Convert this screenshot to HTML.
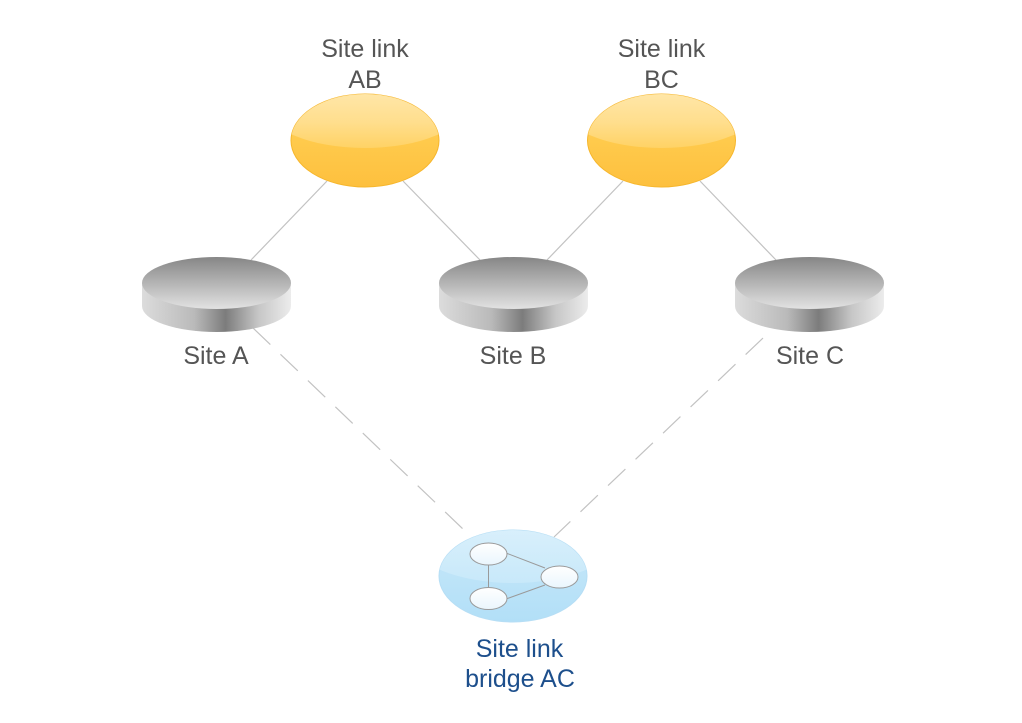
<!DOCTYPE html>
<html><head><meta charset="utf-8"><style>
html,body{margin:0;padding:0;background:#fff;}
svg{display:block;}
</style></head><body>
<svg width="1022" height="723" viewBox="0 0 1022 723" xmlns="http://www.w3.org/2000/svg">
<defs>
  <linearGradient id="org" x1="0" y1="0" x2="0" y2="1">
    <stop offset="0" stop-color="#ffd56e"/>
    <stop offset="0.5" stop-color="#ffca4c"/>
    <stop offset="1" stop-color="#fdc03e"/>
  </linearGradient>
  <linearGradient id="orgHi" x1="0" y1="0" x2="0" y2="1">
    <stop offset="0" stop-color="#fff2d0"/>
    <stop offset="0.7" stop-color="#ffe196"/>
    <stop offset="1" stop-color="#ffd46a"/>
  </linearGradient>
  <linearGradient id="blu" x1="0" y1="0" x2="0" y2="1">
    <stop offset="0" stop-color="#c9e9fa"/>
    <stop offset="1" stop-color="#b2dff7"/>
  </linearGradient>
  <linearGradient id="bluHi" x1="0" y1="0" x2="0" y2="1">
    <stop offset="0" stop-color="#e6f5fd"/>
    <stop offset="1" stop-color="#cbeafa"/>
  </linearGradient>
  <linearGradient id="small" x1="0" y1="0" x2="0" y2="1">
    <stop offset="0" stop-color="#ffffff"/>
    <stop offset="1" stop-color="#eaf6fd"/>
  </linearGradient>
  <linearGradient id="top" x1="0" y1="0" x2="0" y2="1">
    <stop offset="0" stop-color="#868686"/>
    <stop offset="1" stop-color="#e2e2e2"/>
  </linearGradient>
  <linearGradient id="side" x1="0" y1="0" x2="1" y2="0">
    <stop offset="0" stop-color="#dcdcdc"/>
    <stop offset="0.35" stop-color="#bababa"/>
    <stop offset="0.56" stop-color="#7c7c7c"/>
    <stop offset="0.78" stop-color="#c6c6c6"/>
    <stop offset="1" stop-color="#ececec"/>
  </linearGradient>
  <clipPath id="cAB"><ellipse cx="365" cy="140.5" rx="74" ry="46.5"/></clipPath>
  <clipPath id="cBC"><ellipse cx="661.5" cy="140.5" rx="74" ry="46.5"/></clipPath>
  <clipPath id="cBr"><ellipse cx="513" cy="576" rx="74" ry="46"/></clipPath>
</defs>

<!-- connectors -->
<g stroke="#c2c2c2" stroke-width="1.2" fill="none">
  <line x1="327" y1="181" x2="251" y2="260"/>
  <line x1="403" y1="181" x2="480" y2="260"/>
  <line x1="623" y1="181" x2="547" y2="260"/>
  <line x1="700" y1="181" x2="776" y2="260"/>
  <line x1="253" y1="328" x2="463" y2="529" stroke-dasharray="24 14"/>
  <line x1="763" y1="338" x2="554" y2="537" stroke-dasharray="24 14"/>
</g>

<!-- Site link AB -->
<ellipse cx="365" cy="140.5" rx="74" ry="46.5" fill="url(#org)" stroke="#f6b62c" stroke-width="1"/>
<g clip-path="url(#cAB)"><ellipse cx="365" cy="105.5" rx="100" ry="42.5" fill="url(#orgHi)" opacity="0.85"/></g>
<!-- Site link BC -->
<ellipse cx="661.5" cy="140.5" rx="74" ry="46.5" fill="url(#org)" stroke="#f6b62c" stroke-width="1"/>
<g clip-path="url(#cBC)"><ellipse cx="661.5" cy="105.5" rx="100" ry="42.5" fill="url(#orgHi)" opacity="0.85"/></g>

<!-- Disks -->
<g>
  <path d="M142 283 L142 306 A74.5 26 0 0 0 291 306 L291 283 Z" fill="url(#side)"/>
  <ellipse cx="216.5" cy="283" rx="74.5" ry="26" fill="url(#top)"/>
  <path d="M439 283 L439 306 A74.5 26 0 0 0 588 306 L588 283 Z" fill="url(#side)"/>
  <ellipse cx="513.5" cy="283" rx="74.5" ry="26" fill="url(#top)"/>
  <path d="M735 283 L735 306 A74.5 26 0 0 0 884 306 L884 283 Z" fill="url(#side)"/>
  <ellipse cx="809.5" cy="283" rx="74.5" ry="26" fill="url(#top)"/>
</g>

<!-- Bridge -->
<ellipse cx="513" cy="576" rx="74" ry="46" fill="url(#blu)" stroke="#b6def5" stroke-width="1"/>
<g clip-path="url(#cBr)"><ellipse cx="513" cy="541" rx="100" ry="42" fill="url(#bluHi)" opacity="0.8"/></g>
<g stroke="#9a9a9a" stroke-width="1" fill="none">
  <line x1="488.5" y1="565" x2="488.5" y2="587.5"/>
  <line x1="506" y1="553" x2="545" y2="568"/>
  <line x1="506" y1="599" x2="545" y2="585"/>
</g>
<g stroke="#9a9a9a" stroke-width="1" fill="url(#small)">
  <ellipse cx="488.5" cy="554" rx="18.5" ry="11"/>
  <ellipse cx="559.5" cy="577" rx="18.5" ry="11"/>
  <ellipse cx="488.5" cy="598.5" rx="18.5" ry="11"/>
</g>

<!-- Labels -->
<g font-family="'Liberation Sans', sans-serif" font-size="25" fill="#555555" text-anchor="middle">
  <text x="365" y="57">Site link</text>
  <text x="365" y="88">AB</text>
  <text x="661.5" y="57">Site link</text>
  <text x="661.5" y="88">BC</text>
  <text x="216" y="364">Site A</text>
  <text x="513" y="364">Site B</text>
  <text x="810" y="364">Site C</text>
</g>
<g font-family="'Liberation Sans', sans-serif" font-size="25" fill="#1d4f8c" text-anchor="middle">
  <text x="519.5" y="657">Site link</text>
  <text x="520" y="687">bridge AC</text>
</g>
</svg>
</body></html>
